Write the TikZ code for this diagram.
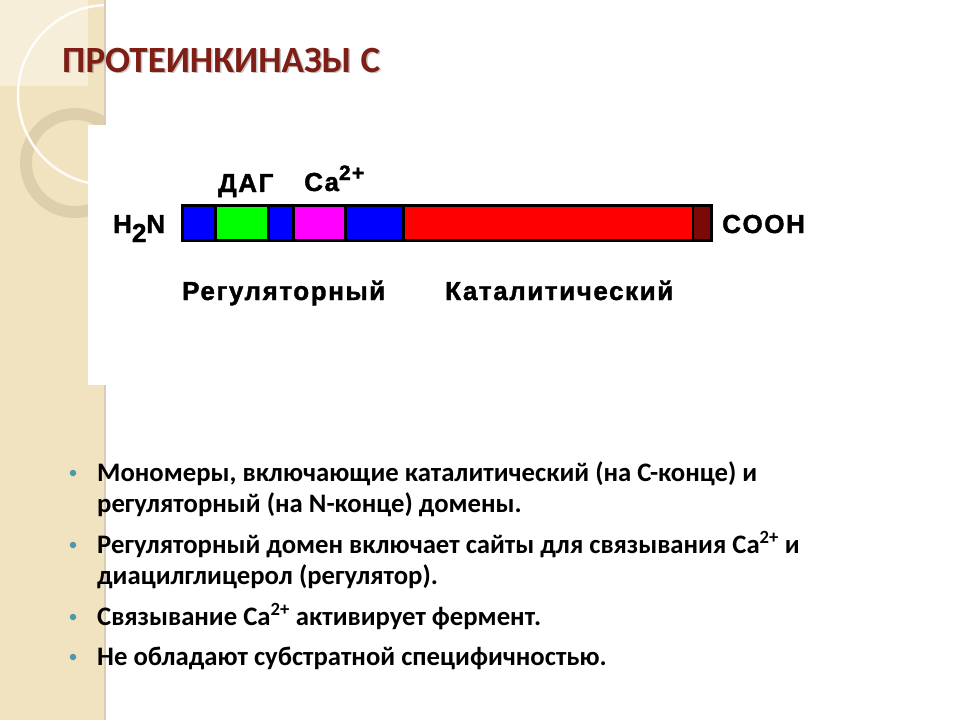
\documentclass[tikz,border=0pt]{standalone}
\usepackage{fontspec}
\setmainfont{Carlito}
\newfontfamily\diagfont{Liberation Sans}[LetterSpace=6, BoldFeatures={FakeBold=1.5}]
\definecolor{band}{RGB}{242,227,192}
\definecolor{bandlight}{RGB}{247,238,218}
\definecolor{ringc}{RGB}{208,192,160}
\definecolor{edgec}{RGB}{214,204,184}
\definecolor{titlered}{RGB}{126,30,20}
\definecolor{bulletc}{RGB}{75,152,172}
\definecolor{segblue}{RGB}{0,0,255}
\definecolor{seggreen}{RGB}{0,255,0}
\definecolor{segmag}{RGB}{255,0,255}
\definecolor{segred}{RGB}{255,0,0}
\definecolor{segdark}{RGB}{125,8,8}
\tikzset{
  seg/.style={inner sep=0pt, anchor=north west, minimum height=32pt, draw=none},
  lbl/.style={inner sep=0pt, font=\diagfont\bfseries\fontsize{26}{30}\selectfont},
  btext/.style={inner sep=0pt, anchor=base west, font=\bfseries\fontsize{26.7}{31}\selectfont},
  bdot/.style={circle, fill=bulletc, inner sep=0pt, minimum size=6.5pt},
  titlefont/.style={inner sep=0pt, anchor=base west, font=\bfseries\fontsize{37}{40}\selectfont}
}
\begin{document}
\begin{tikzpicture}[x=1pt,y=-1pt]
\useasboundingbox (0,0) rectangle (960,720);
\fill[white] (0,0) rectangle (960,720);
% left band
\fill[band] (0,0) rectangle (105,720);
\fill[bandlight] (0,0) rectangle (88,86);
\begin{scope}
  \clip (0,0) rectangle (105,720);
  \fill[ringc, opacity=0.6, even odd rule] (75,163) circle[radius=55pt] (75,163) circle[radius=43pt];
  \draw[white, line width=2.5pt, opacity=0.9] (108,95) circle[radius=90pt];
\end{scope}
\draw[edgec, line width=1.2pt] (105,0) -- (105,720);
% white picture panel
\fill[white] (88,125) rectangle (107,385);
% title
\node[titlefont, text=black!45, opacity=0.5] (titleshadow) at (63.5,73.5) {ПРОТЕИНКИНАЗЫ\hspace{0.25em}С};
\node[titlefont, text=titlered] (title) at (62,72) {ПРОТЕИНКИНАЗЫ\hspace{0.25em}С};
% bar
\node[inner sep=0pt, anchor=north west, fill=black, minimum width=532pt, minimum height=38pt] (bar) at (181,204) {};
\node[seg, fill=segblue, minimum width=30pt] (s1) at (184,207) {};
\node[seg, fill=seggreen, minimum width=50pt] (s2) at (217,207) {};
\node[seg, fill=segblue, minimum width=22pt] (s3) at (270,207) {};
\node[seg, fill=segmag, minimum width=49pt] (s4) at (295,207) {};
\node[seg, fill=segblue, minimum width=55pt] (s5) at (347,207) {};
\node[seg, fill=segred, minimum width=287pt] (s6) at (405,207) {};
\node[seg, fill=segdark, minimum width=16pt] (s7) at (694,207) {};
% labels
\node[lbl, anchor=base west] (dag) at (218,192) {ДАГ};
\node[lbl, anchor=base west] (ca) at (304,191) {Ca\raisebox{11pt}{\fontsize{21}{22}\selectfont 2+}};
\node[lbl, anchor=base west] (h2n) at (113,233) {H\raisebox{-9pt}{2}N};
\node[lbl, anchor=base west] (cooh) at (722,233) {COOH};
\node[lbl, anchor=base west] (reg) at (182,300) {Регуляторный};
\node[lbl, anchor=base west] (cat) at (445,300) {Каталитический};
% bullets
\node[btext] (l1) at (97,481) {Мономеры, включающие каталитический (на С-конце) и};
\node[btext] (l2) at (97,512) {регуляторный (на N-конце) домены.};
\node[btext] (l3) at (97,553) {Регуляторный домен включает сайты для связывания Ca\textsuperscript{2+} и};
\node[btext] (l4) at (97,584) {диацилглицерол (регулятор).};
\node[btext] (l5) at (97,625) {Связывание Ca\textsuperscript{2+} активирует фермент.};
\node[btext] (l6) at (97,665) {Не обладают субстратной специфичностью.};
\node[bdot] (b1) at (73,473) {};
\node[bdot] (b2) at (73,545) {};
\node[bdot] (b3) at (73,617) {};
\node[bdot] (b4) at (73,657) {};
\end{tikzpicture}
\end{document}
